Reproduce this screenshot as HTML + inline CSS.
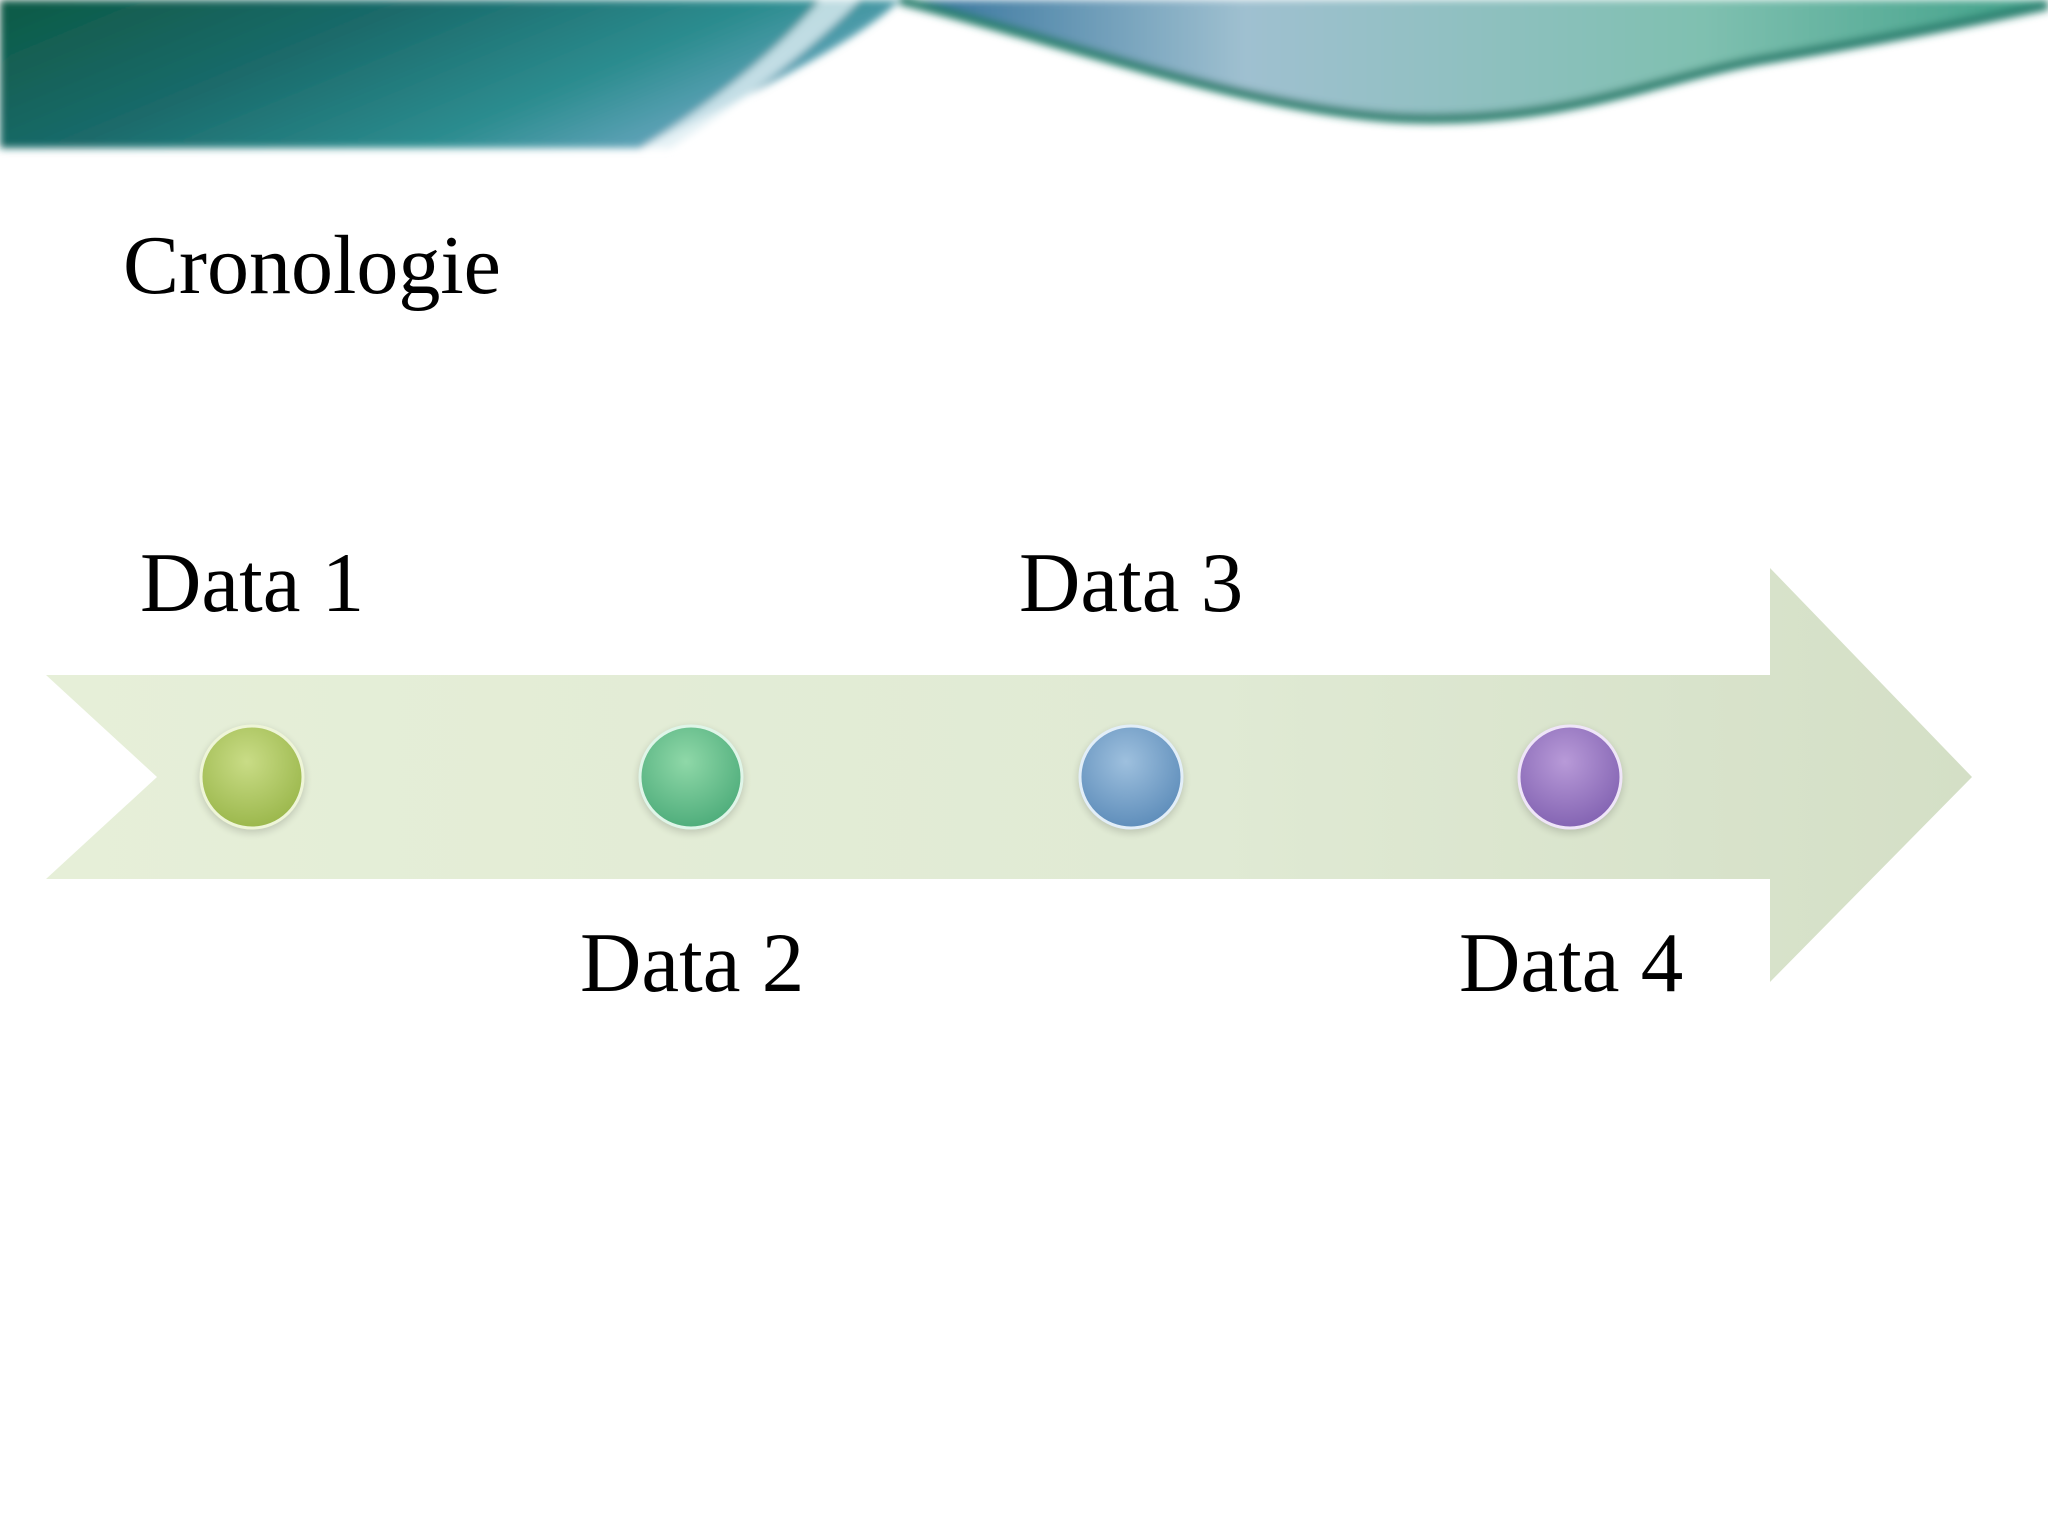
<!DOCTYPE html>
<html><head><meta charset="utf-8"><style>
html,body{margin:0;padding:0;background:#fff;}
body{width:2048px;height:1536px;position:relative;overflow:hidden;font-family:"Liberation Serif",serif;}
.t{position:absolute;color:#000;white-space:nowrap;line-height:1;}
</style></head><body>
<svg width="2048" height="1536" style="position:absolute;left:0;top:0">
<defs>
<linearGradient id="lb" x1="0" y1="0" x2="1" y2="0.4">
<stop offset="0" stop-color="#0d5a45"/><stop offset="0.4" stop-color="#1a6a6a"/><stop offset="0.75" stop-color="#2d8d90"/><stop offset="1" stop-color="#6aa7c0"/></linearGradient>
<linearGradient id="wv" x1="0" y1="0" x2="1" y2="0">
<stop offset="0" stop-color="#2f6f9a"/><stop offset="0.3" stop-color="#9fc0d0"/><stop offset="0.7" stop-color="#7fc0b0"/><stop offset="1" stop-color="#3fa088"/></linearGradient>
<linearGradient id="ar" x1="0" y1="0" x2="1" y2="0">
<stop offset="0" stop-color="#e6efd8"/><stop offset="0.6" stop-color="#e0ead4"/><stop offset="1" stop-color="#d4dfc6"/></linearGradient>
<radialGradient id="c1" cx="0.45" cy="0.35" r="0.7"><stop offset="0" stop-color="#c9dc86"/><stop offset="1" stop-color="#98b548"/></radialGradient>
<radialGradient id="c2" cx="0.45" cy="0.35" r="0.7"><stop offset="0" stop-color="#8fd8a8"/><stop offset="1" stop-color="#4aaa78"/></radialGradient>
<radialGradient id="c3" cx="0.45" cy="0.35" r="0.7"><stop offset="0" stop-color="#9ec0de"/><stop offset="1" stop-color="#5a8ab8"/></radialGradient>
<radialGradient id="c4" cx="0.45" cy="0.35" r="0.7"><stop offset="0" stop-color="#b89ad8"/><stop offset="1" stop-color="#8060b0"/></radialGradient>
<filter id="bl"><feGaussianBlur stdDeviation="4"/></filter>
</defs>
<g filter="url(#bl)">
<path d="M0 0 L900 0 C860 40 760 90 640 148 L0 148 Z" fill="url(#lb)"/>
<path d="M640 148 C700 110 770 60 820 0 L860 0 C800 60 730 110 670 148 Z" fill="#dfeef2" opacity="0.8"/>
<path d="M900 0 C1060 40 1250 110 1400 118 C1560 125 1650 80 1760 60 C1880 40 1980 20 2048 5 L2048 0 Z" fill="url(#wv)"/>
<path d="M900 0 C1060 40 1250 110 1400 118 C1560 125 1650 80 1760 60 C1880 40 1980 20 2048 5" stroke="#2a8070" stroke-width="10" fill="none"/>
</g>
<path d="M46 675 L1770 675 L1770 568 L1972 777 L1770 982 L1770 879 L46 879 L157 777 Z" fill="url(#ar)"/>
<g>
<circle cx="252" cy="780" r="53" fill="#000" opacity="0.15" filter="url(#bl)"/>
<circle cx="252" cy="777" r="51" fill="url(#c1)" stroke="#eef5d8" stroke-width="3"/>
<circle cx="691" cy="780" r="53" fill="#000" opacity="0.15" filter="url(#bl)"/>
<circle cx="691" cy="777" r="51" fill="url(#c2)" stroke="#dff5e8" stroke-width="3"/>
<circle cx="1131" cy="780" r="53" fill="#000" opacity="0.15" filter="url(#bl)"/>
<circle cx="1131" cy="777" r="51" fill="url(#c3)" stroke="#e2eef8" stroke-width="3"/>
<circle cx="1570" cy="780" r="53" fill="#000" opacity="0.15" filter="url(#bl)"/>
<circle cx="1570" cy="777" r="51" fill="url(#c4)" stroke="#efe5f8" stroke-width="3"/>
</g>
</svg>
<div class="t" style="left:123px;top:224px;font-size:84px;">Cronologie</div>
<div class="t" style="left:140px;top:541px;font-size:85px;">Data 1</div>
<div class="t" style="left:1019px;top:541px;font-size:85px;">Data 3</div>
<div class="t" style="left:580px;top:921px;font-size:85px;">Data 2</div>
<div class="t" style="left:1459px;top:921px;font-size:85px;">Data 4</div>
</body></html>
